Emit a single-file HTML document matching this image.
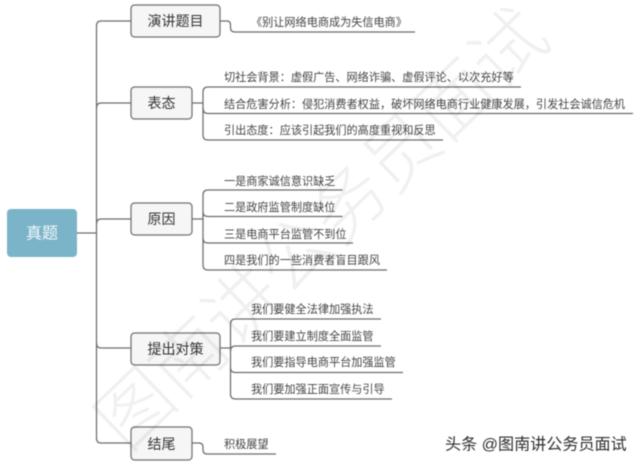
<!DOCTYPE html>
<html lang="zh">
<head>
<meta charset="utf-8">
<style>
html,body{margin:0;padding:0;background:#fff;width:640px;height:465px;overflow:hidden}
svg{display:block;filter:blur(.45px)}
text{font-family:"Liberation Sans","Noto Sans CJK SC",sans-serif;fill:#444}
.l{font-size:11.15px}
.b{font-size:14px;text-anchor:middle;fill:#333}
.c{fill:none;stroke:#6c6c6c;stroke-width:1.25}
.n{fill:#f6f6f6;stroke:#707070;stroke-width:1.25}
</style>
</head>
<body>
<svg width="640" height="465" viewBox="0 0 640 465" xmlns="http://www.w3.org/2000/svg">
<!-- connectors -->
<path class="c" d="M77 233H96.5"/>
<path class="c" d="M131 21H101Q96.5 21 96.5 26V438Q96.5 443 101 443H131"/>
<path class="c" d="M96.5 108Q96.5 103 101 103H131"/>
<path class="c" d="M96.5 224Q96.5 219 101 219H131"/>
<path class="c" d="M96.5 343Q96.5 348 101 348H131"/>
<!-- topic -->
<path class="c" d="M220 21H227Q230.500 21 230.500 25V28Q230.500 32 235 32H415"/>
<!-- stance -->
<path class="c" d="M192 103H203"/>
<path class="c" d="M521 87H208Q203 87 203 92V135Q203 140 208 140H443"/>
<path class="c" d="M203 108Q203 113.500 208 113.500H633"/>
<!-- cause -->
<path class="c" d="M192 219H203"/>
<path class="c" d="M342.500 190H208Q203 190 203 195V265Q203 270 208 270H387"/>
<path class="c" d="M203 212Q203 216.500 208 216.500H342.500"/>
<path class="c" d="M203 238Q203 243 208 243H353"/>
<!-- measures -->
<path class="c" d="M220 348H230.500"/>
<path class="c" d="M381 319H235.500Q230.500 319 230.500 324V394Q230.500 399 235.500 399H392"/>
<path class="c" d="M230.500 351Q230.500 346 235.500 346H381"/>
<path class="c" d="M230.500 368Q230.500 372.500 235.500 372.500H403"/>
<!-- end -->
<path class="c" d="M192 443H199Q203 443 203 447V450Q203 454 207 454H276"/>
<!-- nodes -->
<rect x="7" y="209" width="70" height="48" rx="4" fill="#7bb4c9"/>
<text x="42" y="238.500" text-anchor="middle" style="font-size:16px;fill:#f4f8fa">真题</text>
<rect class="n" x="131" y="5" width="89" height="32" rx="3.500"/>
<text class="b" x="175.500" y="26">演讲题目</text>
<rect class="n" x="131" y="87" width="61" height="32" rx="3.500"/>
<text class="b" x="161.500" y="108">表态</text>
<rect class="n" x="131" y="203" width="61" height="32" rx="3.500"/>
<text class="b" x="161.500" y="224">原因</text>
<rect class="n" x="131" y="333" width="89" height="32" rx="3.500"/>
<text class="b" x="175.500" y="354">提出对策</text>
<rect class="n" x="131" y="427" width="61" height="33" rx="3.500"/>
<text class="b" x="161.500" y="449">结尾</text>
<!-- leaves -->
<text class="l" x="251" y="26">《别让网络电商成为失信电商》</text>
<text class="l" x="224" y="81">切社会背景：虚假广告、网络诈骗、虚假评论、以次充好等</text>
<text class="l" x="224" y="108">结合危害分析：侵犯消费者权益，破坏网络电商行业健康发展，引发社会诚信危机</text>
<text class="l" x="224" y="134">引出态度：应该引起我们的高度重视和反思</text>
<text class="l" x="224" y="185">一是商家诚信意识缺乏</text>
<text class="l" x="224" y="211">二是政府监管制度缺位</text>
<text class="l" x="224" y="238">三是电商平台监管不到位</text>
<text class="l" x="224" y="264">四是我们的一些消费者盲目跟风</text>
<text class="l" x="251" y="313">我们要健全法律加强执法</text>
<text class="l" x="251" y="340">我们要建立制度全面监管</text>
<text class="l" x="251" y="366">我们要指导电商平台加强监管</text>
<text class="l" x="251" y="393">我们要加强正面宣传与引导</text>
<text class="l" x="224" y="448">积极展望</text>
<!-- watermark -->
<text transform="translate(127 453) rotate(-44)" style="font-size:74px;fill:#000;fill-opacity:.06;font-weight:300">图南讲公务员面试</text>
<!-- footer -->
<text x="445" y="449.500" style="font-size:16.100px;fill:#2e2e2e;paint-order:stroke;stroke:#fff;stroke-width:2px">头条 @图南讲公务员面试</text>
</svg>
</body>
</html>
